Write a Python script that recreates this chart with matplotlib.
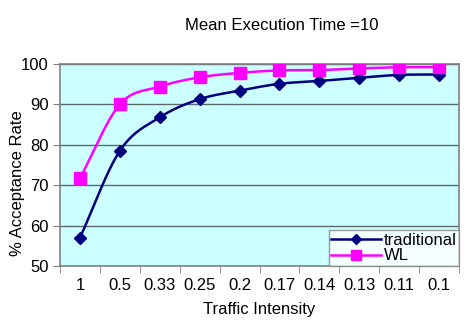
import numpy as np
import matplotlib
matplotlib.use("Agg")
import matplotlib.pyplot as plt

plt.rcParams["font.family"] = ["Liberation Sans", "DejaVu Sans"]

# Données
intensity = ["1", "0.5", "0.33", "0.25", "0.2", "0.17", "0.14", "0.13", "0.11", "0.1"]
traditional = [57.0, 78.5, 86.8, 91.3, 93.4, 95.1, 95.8, 96.6, 97.3, 97.4]
wl = [71.7, 90.0, 94.4, 96.7, 97.8, 98.4, 98.5, 98.9, 99.2, 99.2]


def smooth(y, n=20):
    # courbe lissée façon Excel (Catmull-Rom)
    x = np.arange(len(y), dtype=float)
    y = np.asarray(y, dtype=float)
    px = np.concatenate([[2 * x[0] - x[1]], x, [2 * x[-1] - x[-2]]])
    py = np.concatenate([[2 * y[0] - y[1]], y, [2 * y[-1] - y[-2]]])
    xs, ys = [], []
    for i in range(1, len(px) - 2):
        t = np.linspace(0, 1, n, endpoint=False)
        for arr, out in ((px, xs), (py, ys)):
            p0, p1, p2, p3 = arr[i - 1], arr[i], arr[i + 1], arr[i + 2]
            out.extend(0.5 * (2 * p1 + (-p0 + p2) * t
                              + (2 * p0 - 5 * p1 + 4 * p2 - p3) * t ** 2
                              + (-p0 + 3 * p1 - 3 * p2 + p3) * t ** 3))
    xs.append(x[-1]); ys.append(y[-1])
    return np.array(xs), np.array(ys)


fig = plt.figure(figsize=(4.74, 3.27), dpi=100)
ax = fig.add_axes([60 / 474, 1 - 266 / 327, 399 / 474, 202 / 327])
ax.set_facecolor("#CCFFFF")

x = np.arange(len(intensity))
sx, sy = smooth(traditional)
ax.plot(sx, sy, color="#000080", lw=1.8, zorder=3)
ax.plot(x, traditional, "D", color="#000080", ms=6.5, zorder=4)
sx, sy = smooth(wl)
ax.plot(sx, sy, color="#FF00FF", lw=1.8, zorder=3)
ax.plot(x, wl, "s", color="#FF00FF", ms=8.5, zorder=4)

# légende
ax.plot([], [], "-D", color="#000080", lw=1.8, ms=5, label="traditional")
ax.plot([], [], "-s", color="#FF00FF", lw=1.8, ms=6.5, label="WL")
leg = ax.legend(loc="lower right", fontsize=12, frameon=True, fancybox=False,
                borderaxespad=0, handlelength=3.0, handletextpad=0.15,
                borderpad=0.15, labelspacing=0.05)
leg.get_frame().set_edgecolor("#808080")
leg.get_frame().set_linewidth(1.0)
leg.set_zorder(5)

ax.set_xlim(-0.5, len(intensity) - 0.5)
ax.set_ylim(50, 100)
ax.set_yticks(range(50, 101, 10))
ax.yaxis.grid(True, color="#5a6a6a", lw=1.0)
ax.set_axisbelow(True)

ax.set_xticks(x)
ax.set_xticklabels(intensity)
ax.set_xticks(np.arange(-0.5, len(intensity), 1), minor=True)
ax.tick_params(axis="x", which="major", length=0, pad=9, labelsize=12)
ax.tick_params(axis="x", which="minor", length=5, color="#808080")
ax.tick_params(axis="y", length=5, color="#808080", labelsize=12, pad=3)
for s in ax.spines.values():
    s.set_color("#808080")
    s.set_linewidth(1.2)

ax.set_xlabel("Traffic Intensity", fontsize=12, labelpad=6)
ax.set_ylabel("% Acceptance Rate", fontsize=12)
ax.yaxis.set_label_coords((25 - 60) / 399, (266 - 183) / 202)
fig.text(282 / 474, 1 - 25 / 327, "Mean Execution Time =10", ha="center",
         va="center", fontsize=12)

fig.savefig("out.png", dpi=100)
